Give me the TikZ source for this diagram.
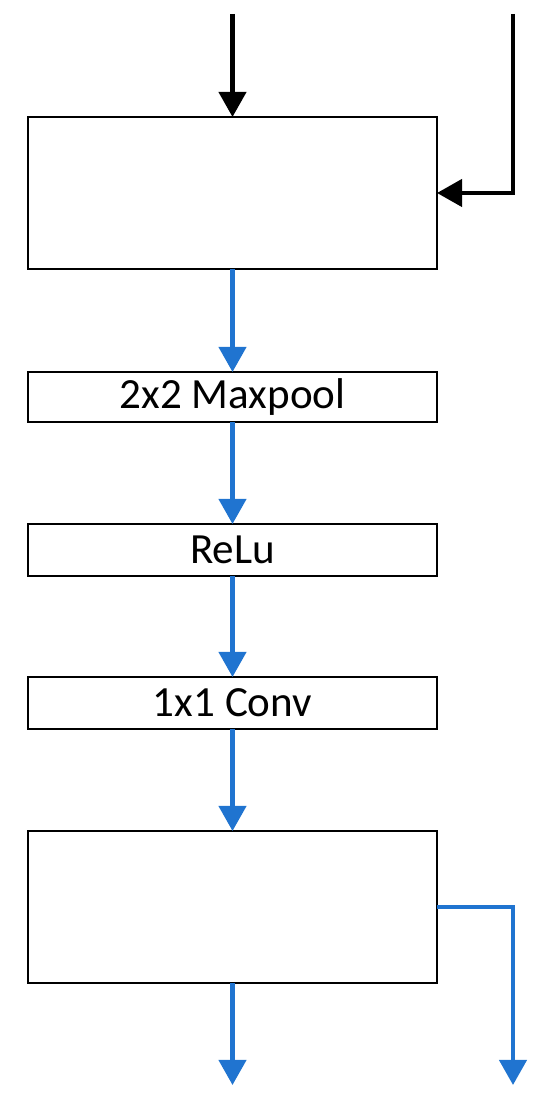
\documentclass[tikz,border=0pt]{standalone}
\usepackage{fontspec}
\setmainfont{Carlito}
\usepackage{xcolor}
\usetikzlibrary{arrows, arrows.meta}

\definecolor{flowblue}{RGB}{32,116,208}

\tikzset{
  block/.style={draw=black, line width=0.8pt, inner sep=0pt, outer sep=0pt, minimum width=8.18cm, font=\fontsize{24.5}{28}\selectfont},
  inarrow/.style={black, line width=2.4pt, -{Triangle[length=0.5cm, width=0.54cm]}},
  flowarrow/.style={flowblue, line width=2.4pt, -{Triangle[length=0.5cm, width=0.54cm]}}
}

\begin{document}
\begin{tikzpicture}
\useasboundingbox (0,0) rectangle (11,22.12);
%\draw[step=1cm,gray,very thin] (0,0) grid (11,22); %background grid

\node[block, minimum height=3.04cm] (upper) at (4.65,18.26) {};
\node[block, minimum height=1.0cm]  (pool)  at (4.65,14.18) {2x2 Maxpool};
\node[block, minimum height=1.04cm] (relu)  at (4.65,11.12) {ReLu};
\node[block, minimum height=1.04cm] (conv)  at (4.65,8.06)  {1x1 Conv};
\node[block, minimum height=3.04cm] (lower) at (4.65,3.98)  {};

\coordinate (inA)  at (4.65,21.84);  % top input
\coordinate (inB)  at (10.26,21.84); % side input
\coordinate (outA) at (4.65,0.42);   % bottom output
\coordinate (outB) at (10.26,0.42);  % side output

\draw[inarrow] (inA) -- (upper.north);
\draw[inarrow] (inB) |- (upper.east);

\draw[flowarrow] (upper.south) -- (pool.north);
\draw[flowarrow] (pool.south) -- (relu.north);
\draw[flowarrow] (relu.south) -- (conv.north);
\draw[flowarrow] (conv.south) -- (lower.north);
\draw[flowarrow] (lower.south) -- (outA);
\draw[flowarrow] (lower.east) -| (outB);

\end{tikzpicture}
\end{document}
